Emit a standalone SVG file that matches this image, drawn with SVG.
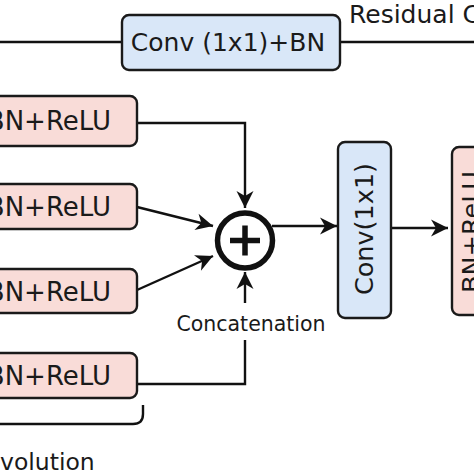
<svg xmlns="http://www.w3.org/2000/svg" width="474" height="474" viewBox="0 0 474 474">
<defs>
<marker id="ah" markerUnits="userSpaceOnUse" markerWidth="22" markerHeight="22" viewBox="-19 -11 22 22" refX="0" refY="0" orient="auto">
<path d="M0,0 L-17,-8.5 L-12,0 L-17,8.5 Z" fill="#111"/>
</marker>
<style>
.pink{fill:#f9dcd8;stroke:#1a1a1a;stroke-width:2.4}
.blue{fill:#d9e7f8;stroke:#1a1a1a;stroke-width:2.4}
.t{font-family:"DejaVu Sans",sans-serif;fill:#1a1a1a}
.ln{fill:none;stroke:#111;stroke-width:2.4}
</style>
</defs>
<rect width="474" height="474" fill="#fff"/>
<g id="connectors">
<path class="ln" d="M0,42 H122 M340,42 H474"/>
<path class="ln" d="M137,123 H245 V208" marker-end="url(#ah)"/>
<path class="ln" d="M137,207 L213,226" marker-end="url(#ah)"/>
<path class="ln" d="M137,290 L213,256" marker-end="url(#ah)"/>
<path class="ln" d="M137,384 H245 V340"/>
<path class="ln" d="M245,303 V272" marker-end="url(#ah)"/>
<path class="ln" d="M272,226 H337" marker-end="url(#ah)"/>
<path class="ln" d="M392,228 H448" marker-end="url(#ah)"/>
<path class="ln" d="M0,424 H133 Q143,424 143,414 V405"/>
</g>
<g id="residual">
<rect class="blue" x="122" y="15" width="218" height="55" rx="7"/>
<text class="t" x="228" y="51" font-size="25" text-anchor="middle">Conv (1x1)+BN</text>
</g>
<text class="t" x="349" y="23" font-size="25">Residual C</text>
<g id="b1"><rect class="pink" x="-10" y="96" width="147" height="50" rx="7"/><text class="t" x="111" y="130" font-size="26" text-anchor="end">BN+ReLU</text></g>
<g id="b2"><rect class="pink" x="-10" y="184" width="147" height="45" rx="7"/><text class="t" x="111" y="216" font-size="26" text-anchor="end">BN+ReLU</text></g>
<g id="b3"><rect class="pink" x="-10" y="269" width="147" height="44" rx="7"/><text class="t" x="111" y="301" font-size="26" text-anchor="end">BN+ReLU</text></g>
<g id="b4"><rect class="pink" x="-10" y="353" width="147" height="45" rx="7"/><text class="t" x="111" y="385" font-size="26" text-anchor="end">BN+ReLU</text></g>
<g id="sum">
<circle cx="245" cy="240.5" r="27.5" fill="#fff" stroke="#111" stroke-width="5.5"/>
<path d="M230,240.5 H260 M245,225.5 V255.5" stroke="#111" stroke-width="5.5"/>
</g>
<text class="t" x="251" y="331" font-size="20.5" text-anchor="middle">Concatenation</text>
<g id="conv1">
<rect class="blue" x="338" y="142" width="53" height="176" rx="7"/>
<text class="t" transform="translate(373,229) rotate(-90)" font-size="25.5" text-anchor="middle">Conv(1x1)</text>
</g>
<g id="bnrelu">
<rect class="pink" x="452" y="147" width="40" height="168" rx="7"/>
<text class="t" transform="translate(480,293) rotate(-90)" font-size="25.5">BN+ReLU</text>
</g>
<text class="t" x="0" y="470" font-size="23.5">volution</text>
</svg>
